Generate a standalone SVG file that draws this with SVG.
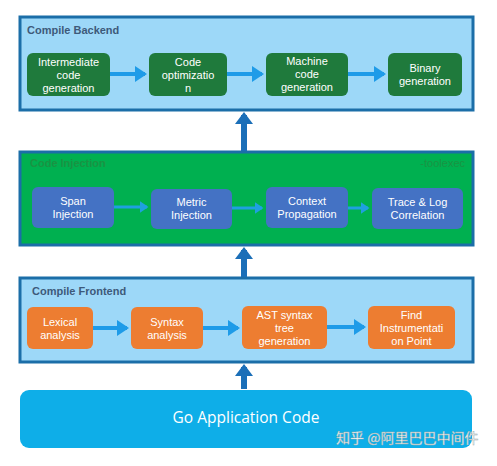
<svg xmlns="http://www.w3.org/2000/svg" width="497" height="466" viewBox="0 0 497 466">
<style>
.frame{stroke:#1b6ea8;stroke-width:3}
.title{font-family:"Liberation Sans",Arial,sans-serif;font-weight:bold;font-size:11px;fill:#3d5a7a}
.nt{font-family:"Liberation Sans",Arial,sans-serif;font-size:11px;fill:#fff;text-anchor:middle}
.g{fill:#1f7a3c}
.b{fill:#4472c4}
.o{fill:#ed7d31}
.flow{stroke:#1e9be8;stroke-width:4;fill:none;marker-end:url(#ah)}
.flow2{stroke:#1fa0e0;stroke-width:3;fill:none;marker-end:url(#ah2)}
.up{stroke:#1b6fb8;stroke-width:6;fill:none;marker-end:url(#uh)}
</style>
<defs>
<marker id="ah" markerWidth="4" markerHeight="4" refX="2.5" refY="2" orient="auto" markerUnits="strokeWidth"><path d="M0,0 L3,2 L0,4 z" fill="#1e9be8"/></marker>
<marker id="ah2" markerWidth="4" markerHeight="4" refX="2.5" refY="2" orient="auto" markerUnits="strokeWidth"><path d="M0,0 L3,2 L0,4 z" fill="#1fa0e0"/></marker>
<marker id="uh" markerWidth="3" markerHeight="3" refX="1.5" refY="1.5" orient="auto" markerUnits="strokeWidth"><path d="M0,0 L2,1.5 L0,3 z" fill="#1b6fb8"/></marker>
</defs>
<rect width="497" height="466" fill="#fff"/>

<g id="backend">
<rect class="frame" x="20" y="17" width="453" height="93" fill="#9dd8f8"/>
<text class="title" x="27" y="34">Compile Backend</text>
</g>
<g id="n-intermediate"><rect class="g" x="27" y="53" width="83" height="43" rx="6"/><text class="nt" x="68.5" y="66">Intermediate</text><text class="nt" x="68.5" y="79">code</text><text class="nt" x="68.5" y="92">generation</text></g>
<g id="n-codeopt"><rect class="g" x="149" y="53" width="78" height="43" rx="6"/><text class="nt" x="188" y="66">Code</text><text class="nt" x="188" y="79">optimizatio</text><text class="nt" x="188" y="92">n</text></g>
<g id="n-machine"><rect class="g" x="266" y="53" width="82" height="43" rx="6"/><text class="nt" x="307" y="65">Machine</text><text class="nt" x="307" y="78">code</text><text class="nt" x="307" y="91">generation</text></g>
<g id="n-binary"><rect class="g" x="388" y="53" width="74" height="43" rx="6"/><text class="nt" x="425" y="72">Binary</text><text class="nt" x="425" y="85">generation</text></g>

<g id="injection">
<rect class="frame" x="20" y="152" width="453" height="93" fill="#00b050"/>
<text class="title" x="30" y="167" style="fill:#1a9343">Code Injection</text>
<text class="title" x="465" y="167" text-anchor="end" style="fill:#1a9343;font-weight:normal">-toolexec</text>
</g>
<g id="n-span"><rect class="b" x="32" y="187" width="82" height="41" rx="6"/><text class="nt" x="73" y="205">Span</text><text class="nt" x="73" y="218">Injection</text></g>
<g id="n-metric"><rect class="b" x="151" y="189" width="81" height="40" rx="6"/><text class="nt" x="191.5" y="206">Metric</text><text class="nt" x="191.5" y="219">Injection</text></g>
<g id="n-context"><rect class="b" x="266" y="187" width="82" height="41" rx="6"/><text class="nt" x="307" y="205">Context</text><text class="nt" x="307" y="218">Propagation</text></g>
<g id="n-trace"><rect class="b" x="372" y="188" width="91" height="41" rx="6"/><text class="nt" x="417.5" y="206">Trace &amp; Log</text><text class="nt" x="417.5" y="219">Correlation</text></g>

<g id="frontend">
<rect class="frame" x="20" y="278" width="453" height="84" fill="#9dd8f8"/>
<text class="title" x="32" y="295">Compile Frontend</text>
</g>
<g id="n-lexical"><rect class="o" x="27" y="307" width="66" height="42" rx="6"/><text class="nt" x="60" y="326">Lexical</text><text class="nt" x="60" y="339">analysis</text></g>
<g id="n-syntax"><rect class="o" x="131" y="307" width="72" height="42" rx="6"/><text class="nt" x="167" y="326">Syntax</text><text class="nt" x="167" y="339">analysis</text></g>
<g id="n-ast"><rect class="o" x="242" y="306" width="85" height="43" rx="6"/><text class="nt" x="284.5" y="319">AST syntax</text><text class="nt" x="284.5" y="332">tree</text><text class="nt" x="284.5" y="345">generation</text></g>
<g id="n-find"><rect class="o" x="368" y="306" width="87" height="43" rx="6"/><text class="nt" x="411.5" y="319">Find</text><text class="nt" x="411.5" y="332">Instrumentati</text><text class="nt" x="411.5" y="345">on Point</text></g>

<g id="n-goapp">
<rect x="20" y="390" width="452" height="58" rx="9" fill="#0eaee8"/>
<text x="246" y="423" text-anchor="middle" style="font-family:'Open Sans','Noto Sans',sans-serif;font-size:15.5px;fill:#fff">Go Application Code</text>
</g>

<g id="connectors">
<line class="flow" x1="110" y1="74" x2="145" y2="74"/>
<line class="flow" x1="227" y1="74" x2="262" y2="74"/>
<line class="flow" x1="348" y1="74" x2="384" y2="74"/>
<line class="flow2" x1="114" y1="207" x2="147" y2="207"/>
<line class="flow2" x1="232" y1="208" x2="262" y2="208"/>
<line class="flow2" x1="348" y1="208" x2="368" y2="208"/>
<line class="flow" x1="93" y1="328" x2="127" y2="328"/>
<line class="flow" x1="203" y1="328" x2="238" y2="328"/>
<line class="flow" x1="327" y1="327" x2="364" y2="327"/>
<line class="up" x1="244" y1="151" x2="244" y2="115"/>
<line class="up" x1="244" y1="277" x2="244" y2="250"/>
<line class="up" x1="244" y1="389" x2="244" y2="367"/>
</g>

<text x="336" y="443" style="font-family:'Noto Sans CJK SC',sans-serif;font-size:14px;fill:#fff;stroke:#9aa;stroke-width:0.4">知乎 @阿里巴巴中间件</text>
</svg>
